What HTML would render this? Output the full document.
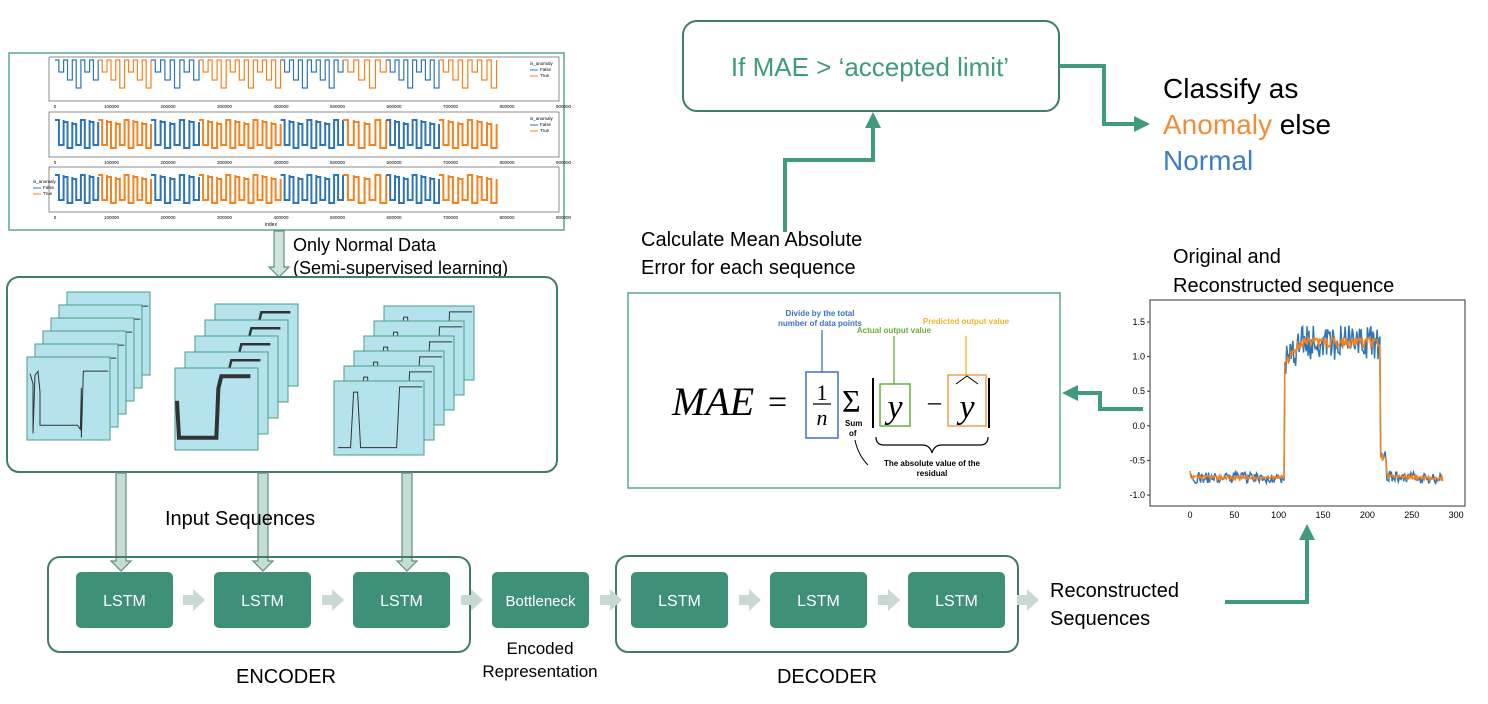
<!DOCTYPE html>
<html><head><meta charset="utf-8"><style>
body{margin:0;background:#fff;}
svg{display:block;font-family:"Liberation Sans",Arial,sans-serif;}
</style></head><body>
<svg id="s" width="1488" height="704" viewBox="0 0 1488 704" xmlns="http://www.w3.org/2000/svg">
<defs>
<marker id="ah" markerWidth="4" markerHeight="4" refX="2" refY="2" orient="auto" markerUnits="strokeWidth"><path d="M0,0 L4,2 L0,4 z" fill="#3f9a80"/></marker>
</defs>
<rect x="9" y="53" width="555" height="177" fill="#fff" stroke="#5aa88e" stroke-width="1.5"/>
<g id="topcharts"></g>
<path d="M274,231 h10 v36 h5 l-10,10 l-10,-10 h5 z" fill="#cfe5dc" stroke="#5f8f7e" stroke-width="1.2"/>
<text x="293" y="251" font-size="18">Only Normal Data</text>
<text x="293" y="274" font-size="18">(Semi-supervised learning)</text>
<rect x="7" y="277" width="550" height="195" rx="12" fill="#fff" stroke="#3f7d6a" stroke-width="2"/>
<g id="stacks"></g>
<g id="downarrows"></g>
<text x="165" y="525" font-size="20">Input Sequences</text>
<rect x="48" y="557" width="422" height="95" rx="12" fill="none" stroke="#3f7d6a" stroke-width="2"/>
<rect x="616" y="556" width="402" height="96" rx="12" fill="none" stroke="#3f7d6a" stroke-width="2"/>
<g id="blocks"></g>
<text x="286" y="683" font-size="20" text-anchor="middle">ENCODER</text>
<text x="540" y="654" font-size="17" text-anchor="middle">Encoded</text>
<text x="540" y="677" font-size="17" text-anchor="middle">Representation</text>
<text x="827" y="683" font-size="20" text-anchor="middle">DECODER</text>
<text x="1050" y="597" font-size="20">Reconstructed</text>
<text x="1050" y="625" font-size="20">Sequences</text>
<path d="M1225,602 H1307 V532" fill="none" stroke="#3f9a80" stroke-width="4" marker-end="url(#ah)"/>
<text x="1173" y="263" font-size="20">Original and</text>
<text x="1173" y="292" font-size="20">Reconstructed sequence</text>
<rect x="1150" y="300" width="315" height="206" fill="#fff" stroke="#333" stroke-width="1"/>
<g id="rchart" font-size="9"></g>
<path d="M1143,409 H1100 V393 H1070" fill="none" stroke="#3f9a80" stroke-width="4" marker-end="url(#ah)"/>
<text x="641" y="246" font-size="20">Calculate Mean Absolute</text>
<text x="641" y="274" font-size="20">Error for each sequence</text>
<rect x="628" y="293" width="432" height="195" fill="#fff" stroke="#5aa88e" stroke-width="1.5"/>
<text x="672" y="415" font-size="40" font-family="Liberation Serif,serif" font-style="italic">MAE</text>
<text x="768" y="413" font-size="34" font-family="Liberation Serif,serif">=</text>
<text x="820" y="316" font-size="8" fill="#3d6fc9" text-anchor="middle" font-weight="bold">Divide by the total</text>
<text x="820" y="326" font-size="8" fill="#3d6fc9" text-anchor="middle" font-weight="bold">number of data points</text>
<line x1="822" y1="330" x2="822" y2="372" stroke="#3d6fc9" stroke-width="1.3"/>
<rect x="806" y="372" width="32" height="66" fill="none" stroke="#3d6fc9" stroke-width="1.5"/>
<text x="822" y="400" font-size="22" font-family="Liberation Serif,serif" text-anchor="middle">1</text>
<line x1="813" y1="404" x2="831" y2="404" stroke="#000" stroke-width="1.3"/>
<text x="822" y="425" font-size="22" font-family="Liberation Serif,serif" font-style="italic" text-anchor="middle">n</text>
<text x="842" y="412" font-size="32" font-family="Liberation Serif,serif">Σ</text>
<text x="845" y="426" font-size="8" font-weight="bold">Sum</text>
<text x="849" y="436" font-size="8" font-weight="bold">of</text>
<path d="M855,440 Q858,455 868,465" fill="none" stroke="#000" stroke-width="1"/>
<line x1="873" y1="378" x2="873" y2="428" stroke="#000" stroke-width="2"/>
<line x1="989" y1="378" x2="989" y2="428" stroke="#000" stroke-width="2"/>
<text x="894" y="333" font-size="8" fill="#6aab3c" text-anchor="middle" font-weight="bold">Actual output value</text>
<line x1="894" y1="336" x2="894" y2="384" stroke="#6aab3c" stroke-width="1.3"/>
<rect x="880" y="384" width="30" height="42" fill="none" stroke="#6aab3c" stroke-width="1.5"/>
<text x="895" y="418" font-size="34" font-family="Liberation Serif,serif" font-style="italic" text-anchor="middle">y</text>
<text x="928" y="410" font-size="26" font-family="Liberation Serif,serif">–</text>
<text x="966" y="324" font-size="8" fill="#e8b830" text-anchor="middle" font-weight="bold">Predicted output value</text>
<line x1="966" y1="336" x2="966" y2="375" stroke="#e8b830" stroke-width="1.3"/>
<rect x="948" y="375" width="38" height="51" fill="none" stroke="#f0a050" stroke-width="1.5"/>
<text x="967" y="418" font-size="34" font-family="Liberation Serif,serif" font-style="italic" text-anchor="middle">y</text>
<path d="M956,384 L967,376 L978,384" fill="none" stroke="#000" stroke-width="1"/>
<path d="M876,437 q0,8 8,8 h38 q8,0 10,8 q2,-8 10,-8 h38 q8,0 8,-8" fill="none" stroke="#000" stroke-width="1.2"/>
<text x="932" y="466" font-size="8" font-weight="bold" text-anchor="middle">The absolute value of the</text>
<text x="932" y="476" font-size="8" font-weight="bold" text-anchor="middle">residual</text>
<path d="M785,232 V160 H873 V120" fill="none" stroke="#3f9a80" stroke-width="4" marker-end="url(#ah)"/>
<rect x="683" y="21" width="376" height="90" rx="14" fill="#fff" stroke="#3f7d6a" stroke-width="2"/>
<text x="870" y="76" font-size="26" fill="#3f9a80" text-anchor="middle">If MAE &gt; ‘accepted limit’</text>
<path d="M1059,66 H1104 V124 H1142" fill="none" stroke="#3f9a80" stroke-width="4" marker-end="url(#ah)"/>
<text x="1163" y="98" font-size="28">Classify as</text>
<text x="1163" y="134" font-size="28"><tspan fill="#f08c3a">Anomaly</tspan> else</text>
<text x="1163" y="170" font-size="28" fill="#3d7cc9">Normal</text>
</svg>
<script>
var NS="http://www.w3.org/2000/svg";
function el(p,t,a,txt){var e=document.createElementNS(NS,t);for(var k in a)e.setAttribute(k,a[k]);if(txt!==undefined)e.textContent=txt;p.appendChild(e);return e;}
var B="#2e75b6",O="#f58220";
var tc=document.getElementById("topcharts");
var plots=[[57,101],[112,157],[167,212]];
var segs=[[0,0.09,B],[0.09,0.2,O],[0.2,0.3,B],[0.3,0.47,O],[0.47,0.6,B],[0.6,0.69,O],[0.69,0.8,B],[0.8,0.92,O]];
var x0=55;
plots.forEach(function(p,i){
  el(tc,"rect",{x:49,y:p[0],width:510,height:p[1]-p[0],fill:"none",stroke:"#444","stroke-width":0.6});
  for(var j=0;j<=9;j++){var xx=55+j*56.5;el(tc,"text",{x:xx,y:p[1]+7,"font-size":4.5,"text-anchor":"middle"},j==0?"0":(j*100000));}
  segs.forEach(function(s){
    var d="",n=Math.max(3,Math.round((s[1]-s[0])*50));
    for(var k=0;k<n;k++){
      var xa=x0+((s[0]+(s[1]-s[0])*k/n))*480, w=480*(s[1]-s[0])/n;
      var hi,lo;
      if(i==0){hi=p[0]+3;lo=p[0]+15+((k*7)%3)*8;}
      else {hi=p[0]+8+(k%3)*2;lo=p[1]-12+(k%2)*3;}
      d+=(k==0?"M":"L")+xa.toFixed(1)+","+hi+" L"+(xa+w*0.45).toFixed(1)+","+hi+" L"+(xa+w*0.45).toFixed(1)+","+lo+" L"+(xa+w).toFixed(1)+","+lo+" L"+(xa+w).toFixed(1)+","+hi+" ";
    }
    el(tc,"path",{d:d,fill:"none",stroke:s[2],"stroke-width":i==0?1.2:2});
  });
  var ly=i==2?p[0]+12:p[0]+4;var lx=i==2?33:530;
  el(tc,"text",{x:lx,y:ly+4,"font-size":4.5},"is_anomaly");
  el(tc,"line",{x1:lx,y1:ly+9,x2:lx+8,y2:ly+9,stroke:B});el(tc,"text",{x:lx+10,y:ly+10,"font-size":4.5},"False");
  el(tc,"line",{x1:lx,y1:ly+15,x2:lx+8,y2:ly+15,stroke:O});el(tc,"text",{x:lx+10,y:ly+16,"font-size":4.5},"True");
});
el(tc,"text",{x:265,y:226,"font-size":5},"index");
var st=document.getElementById("stacks");
function stack(fx,fy,w,h,n,dx,dy,type){
  for(var i=n-1;i>=0;i--){
    var x=fx+dx*i,y=fy+dy*i;
    el(st,"rect",{x:x,y:y,width:w,height:h,fill:"#b4e3ee",stroke:"#4a9d87","stroke-width":1});
    var d;
    if(type==0)d="M"+(x+3)+","+(y+h*0.2)+" l3,10 l0,"+(h*0.6)+" l2,-"+(h*0.7)+" l3,-4 l2,"+(h*0.25)+" l0,"+(h*0.4)+" h"+(w*0.45)+" l3,4 l1,-"+(h*0.5)+" l0,"+(h*0.6)+" l2,-"+(h*0.8)+" h"+(w*0.3);
    else if(type==1)d="M"+(x+2)+","+(y+h*0.4)+" l2,"+(h*0.45)+" h"+(w*0.45)+" l2,-"+(h*0.6)+" l3,-"+(h*0.15)+" h"+(w*0.35);
    else d="M"+(x+4)+","+(y+h*0.9)+" h"+(w*0.14)+" l3,-"+(h*0.75)+" l4,0 l3,"+(h*0.75)+" h"+(w*0.4)+" l3,-"+(h*0.82)+" h"+(w*0.25);
    el(st,"path",{d:d,fill:"none",stroke:"#333","stroke-width":type==1?(i==0?4:2.5):1});
  }
}
stack(27,357,83,83,6,8,-13,0);
stack(175,368,83,82,5,10,-16,1);
stack(334,381,90,74,6,10,-15,2);
var da=document.getElementById("downarrows");
[121,263,407].forEach(function(cx){
  el(da,"path",{d:"M"+(cx-5)+",473 h10 v88 h5 l-10,10 l-10,-10 h5 z",fill:"#c6ddd4",stroke:"#5f8f7e","stroke-width":1.2});
});
var bl=document.getElementById("blocks");
var bx=[[76,"LSTM"],[214,"LSTM"],[353,"LSTM"],[492,"Bottleneck"],[631,"LSTM"],[770,"LSTM"],[908,"LSTM"]];
bx.forEach(function(b){
  el(bl,"rect",{x:b[0],y:572,width:97,height:56,rx:5,fill:"#3e9079"});
  el(bl,"text",{x:b[0]+48.5,y:606,"font-size":b[1]=="LSTM"?16:15,fill:"#fff","text-anchor":"middle"},b[1]);
});
[183,322,461,600,739,878,1017].forEach(function(x){
  el(bl,"path",{d:"M"+x+",595 h10 v-6 l12,11 l-12,11 v-6 h-10 z",fill:"#c8d8d2"});
});
var rc=document.getElementById("rchart");
function X(t){return 1190+t*0.887;} function Y(v){return 322+(1.5-v)*69.2;}
[1.5,1.0,0.5,0.0,-0.5,-1.0].forEach(function(v){el(rc,"text",{x:1145,y:Y(v)+3,"text-anchor":"end"},v.toFixed(1));el(rc,"line",{x1:1147,y1:Y(v),x2:1150,y2:Y(v),stroke:"#333"});});
for(var t=0;t<=300;t+=50){el(rc,"text",{x:X(t),y:518,"text-anchor":"middle"},t);}
function sig(t,noise,seed){
  var r=Math.sin(t*12.9898+seed)*43758.5453;r=r-Math.floor(r);r=(r-0.5)*2*noise;
  var base;
  if(t<107)base=-0.75;else if(t<215)base=(t<125?0.9+(t-107)*0.018:1.2);else if(t<222)base=-0.45;else base=-0.72-(t-222)*0.0008;
  return base+r;
}
var d1="",d2="";
for(var t=0;t<=285;t++){
  var v1=sig(t,t>107&&t<215?0.25:0.08,1.3),v2=sig(t,t>107&&t<215?0.08:0.03,7.7);
  if(t==0)v2=-0.65;
  d1+=(t?"L":"M")+X(t).toFixed(1)+","+Y(v1).toFixed(1);
  d2+=(t?"L":"M")+X(t).toFixed(1)+","+Y(v2).toFixed(1);
}
el(rc,"path",{d:d1,fill:"none",stroke:"#2e75b6","stroke-width":1.5});
el(rc,"path",{d:d2,fill:"none",stroke:"#f58220","stroke-width":1.5});
</script>
</body></html>
